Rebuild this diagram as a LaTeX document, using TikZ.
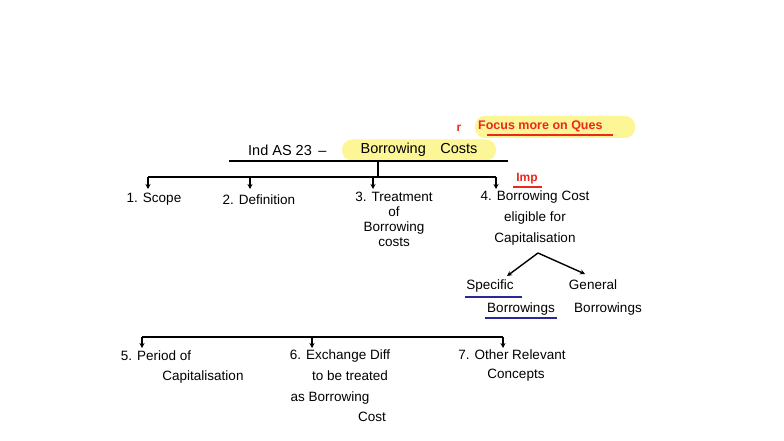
\documentclass[tikz,border=0pt]{standalone}
\usepackage{fontspec}
\setmainfont{Liberation Sans}
\usetikzlibrary{arrows.meta}
\definecolor{hl}{RGB}{252,246,150}
\definecolor{redink}{RGB}{235,40,30}
\definecolor{blueink}{RGB}{40,40,150}
\begin{document}
\begin{tikzpicture}[x=1pt,y=-1pt,
  ink/.style={line width=1.4pt, black},
  arr/.style={ink,-{Stealth[length=5pt,width=5pt]}},
  lbl/.style={font=\fontsize{13.5}{15}\selectfont, inner sep=0pt, align=center},
  blueline/.style={line width=1.2pt, blueink},
  redline/.style={line width=1.2pt, redink}]
\useasboundingbox (0,0) rectangle (784,441);
\fill[white] (0,0) rectangle (784,441);

% red note
\node[fill=hl, rounded corners=10pt, minimum width=160pt, minimum height=22pt, inner sep=0pt] (notehl) at (555,127) {};
\node[lbl, font=\fontsize{12.5}{14}\selectfont\bfseries, text=redink, anchor=west] (note) at (478,126) {Focus more on Ques};
\coordinate (noteulL) at (487,135); \coordinate (noteulR) at (613,135);
\draw[redline] (noteulL) -- (noteulR);
\node[lbl, font=\fontsize{12}{13}\selectfont\bfseries, text=redink] (mark) at (459,128) {r};

% title
\node[lbl, font=\fontsize{14.5}{16}\selectfont, anchor=west] (titleA) at (248,150) {Ind AS 23 \,--};
\node[lbl, font=\fontsize{14.5}{16}\selectfont, fill=hl, rounded corners=10pt, minimum width=154pt, minimum height=21pt] (titleB) at (419,150) {Borrowing\quad Costs};
\coordinate (ulL) at (229,161); \coordinate (ulR) at (508,161);
\draw[ink] (ulL) -- (ulR);
\coordinate (stem) at (378,161); \coordinate (bus1) at (378,177);
\draw[ink] (stem) -- (bus1);

% first-level bus
\coordinate (b1L) at (148,177); \coordinate (b1R) at (496,177);
\coordinate (b1b) at (250,177); \coordinate (b1c) at (373,177);
\draw[ink] (b1L) -- (b1R);

\node[lbl] (n1) at (154,199) {1. Scope};
\node[lbl] (n2) at (259,200) {2. Definition};
\node[lbl, anchor=north] (n3) at (394,192) {3. Treatment\\of\\Borrowing\\costs};
\node[lbl, font=\fontsize{13.5}{21}\selectfont, anchor=north] (n4) at (535,191) {4. Borrowing Cost\\eligible for\\Capitalisation};

\draw[arr] (b1L) -- (b1L |- 0,189);
\draw[arr] (b1b) -- (b1b |- 0,189);
\draw[arr] (b1c) -- (b1c |- 0,189);
\draw[arr] (b1R) -- (b1R |- 0,189);

% Imp
\node[lbl, font=\fontsize{12}{13}\selectfont\bfseries, text=redink] (imp) at (527,179) {Imp};
\coordinate (impL) at (513,187); \coordinate (impR) at (542,187);
\draw[redline] (impL) -- (impR);

% split
\coordinate (apex) at (538,253);
\node[lbl] (spec) at (490,286) {Specific};
\node[lbl] (specB) at (521,309) {Borrowings};
\node[lbl] (gen) at (593,285) {General};
\node[lbl] (genB) at (608,309) {Borrowings};
\draw[arr] (apex) -- (507,276);
\draw[arr] (apex) -- (585,274);
\coordinate (sulL) at (465,297); \coordinate (sulR) at (522,297);
\coordinate (bulL) at (485,318); \coordinate (bulR) at (557,318);
\draw[blueline] (sulL) -- (sulR);
\draw[blueline] (bulL) -- (bulR);

% second bus
\coordinate (b2L) at (142,337); \coordinate (b2M) at (312,337); \coordinate (b2R) at (503,337);
\draw[ink] (b2L) -- (b2R);
\draw[arr] (b2L) -- (b2L |- 0,348);
\draw[arr] (b2M) -- (b2M |- 0,348);
\draw[arr] (b2R) -- (b2R |- 0,348);

\node[lbl] (n5a) at (156,356) {5. Period of};
\node[lbl] (n5b) at (203,377) {Capitalisation};
\node[lbl] (n6a) at (340,356) {6. Exchange Diff};
\node[lbl] (n6b) at (350,376) {to be treated};
\node[lbl] (n6c) at (330,398) {as Borrowing};
\node[lbl] (n6d) at (372,417) {Cost};
\node[lbl] (n7a) at (512,355) {7. Other Relevant};
\node[lbl] (n7b) at (516,375) {Concepts};
\end{tikzpicture}
\end{document}
